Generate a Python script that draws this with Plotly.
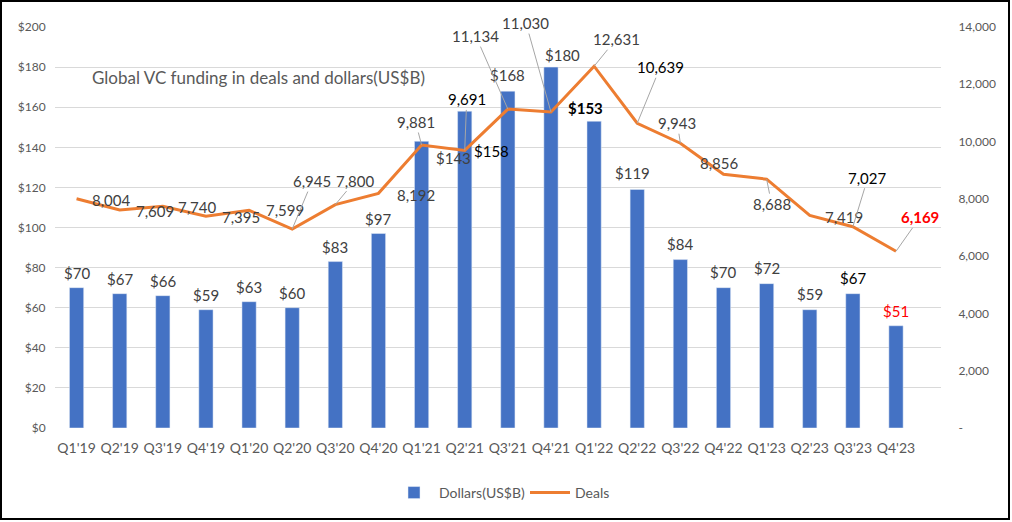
import plotly.graph_objects as go

quarters = ["Q1'19", "Q2'19", "Q3'19", "Q4'19", "Q1'20", "Q2'20", "Q3'20", "Q4'20",
            "Q1'21", "Q2'21", "Q3'21", "Q4'21", "Q1'22", "Q2'22", "Q3'22", "Q4'22",
            "Q1'23", "Q2'23", "Q3'23", "Q4'23"]
dollars = [70, 67, 66, 59, 63, 60, 83, 97, 143, 158, 168, 180, 153, 119, 84, 70, 72, 59, 67, 51]
deals = [8004, 7609, 7740, 7395, 7599, 6945, 7800, 8192, 9881, 9691, 11134, 11030,
         12631, 10639, 9943, 8856, 8688, 7419, 7027, 6169]

# label placement (pixel offsets; dy positive = down) and styles
deal_off = [(35, 1, 0), (35, 1, 0), (35, 1, 0), (35, 1, 0), (36, 0, 0), (20, -48, 1),
            (20, -24, 1), (38, 2, 0), (-6, -23, 1), (2, -51, 1), (-32, -73, 1), (-25, -89, 1),
            (22, -27, 1), (23, -56, 1), (-3, -20, 1), (-4, -11, 0), (5, 25, 1), (34, 1, 0),
            (15, -49, 1), (24, -34, 1)]
deal_col = {9: "#000000", 13: "#000000", 18: "#000000", 19: "#FF0000"}
bar_off = [(0, -15)] * 8 + [(32, 17), (27, 40), (0, -16), (12, -12), (-9, -13), (-5, -16),
                            (0, -16), (0, -16), (0, -16), (0, -16), (0, -16), (0, -15)]
bar_col = {9: "#000000", 12: "#000000", 18: "#000000", 19: "#FF0000"}

FONT = "Lato, 'Open Sans', sans-serif"
GRAY = "#404040"
LSIZE = 15

fig = go.Figure()
fig.add_trace(go.Bar(x=quarters, y=dollars, name="Dollars(US$B)", marker_color="#4472C4",
                     width=0.33, yaxis="y"))
fig.add_trace(go.Scatter(x=quarters, y=deals, name="Deals", mode="lines",
                         line=dict(color="#ED7D31", width=3), yaxis="y2"))

ann = []
for i, (q, v) in enumerate(zip(quarters, dollars)):
    dx, dy = bar_off[i]
    c = bar_col.get(i, GRAY)
    txt = f"${v}"
    if i == 12:
        txt = f"<b>${v}</b>"
    ann.append(dict(x=q, y=v, xref="x", yref="y", text=txt, showarrow=False,
                    xshift=dx, yshift=-dy, font=dict(size=LSIZE, color=c, family=FONT)))
for i, (q, v) in enumerate(zip(quarters, deals)):
    dx, dy, lead = deal_off[i]
    c = deal_col.get(i, GRAY)
    txt = f"{v:,}"
    if i == 19:
        txt = f"<b>{v:,}</b>"
    common = dict(x=q, y=v, xref="x", yref="y2", text=txt,
                  font=dict(size=LSIZE, color=c, family=FONT))
    if lead:
        ann.append(dict(**common, showarrow=True, ax=dx, ay=dy, arrowhead=0,
                        arrowwidth=1, arrowcolor="#A6A6A6", standoff=0))
    else:
        ann.append(dict(**common, showarrow=False, xshift=dx, yshift=-dy))

ann.append(dict(x=0.0395, y=0.873, xref="paper", yref="paper", xanchor="left",
                yanchor="middle", showarrow=False,
                text="Global VC funding in deals and dollars(US$B)",
                font=dict(size=17, color="#595959", family=FONT)))

W, H = 1012, 522
ml, mr, mt, mb = 55, 71, 27, 94
pw, ph = W - ml - mr, H - mt - mb

fig.update_layout(
    width=W, height=H,
    margin=dict(l=ml, r=mr, t=mt, b=mb),
    paper_bgcolor="white", plot_bgcolor="white",
    font=dict(family=FONT, color="#595959"),
    showlegend=True,
    legend=dict(orientation="h", x=(389 - ml) / pw, xanchor="left", y=-0.162,
                yanchor="middle", font=dict(size=14, color="#595959"),
                traceorder="normal", itemwidth=40, entrywidth=81),
    xaxis=dict(showgrid=False, showline=False, ticks="outside", ticklen=7,
               tickcolor="rgba(0,0,0,0)", tickfont=dict(size=14, color="#595959")),
    yaxis=dict(range=[0, 200], dtick=20, tickprefix="$", showgrid=True,
               gridcolor="#D9D9D9", gridwidth=1, zeroline=False,
               tickfont=dict(size=12, color="#595959"), ticks="outside", ticklen=6,
               tickcolor="rgba(0,0,0,0)"),
    yaxis2=dict(range=[0, 14000], overlaying="y", side="right", showgrid=False,
                zeroline=False, tickvals=list(range(0, 14001, 2000)),
                ticktext=["-"] + [f"{t:,}" for t in range(2000, 14001, 2000)],
                tickfont=dict(size=12, color="#595959"), ticks="outside", ticklen=14,
                tickcolor="rgba(0,0,0,0)"),
    annotations=ann,
    shapes=[dict(type="rect", xref="paper", yref="paper",
                 x0=(1 - ml) / pw, x1=1 + (mr - 3) / pw,
                 y0=-(mb - 3) / ph, y1=1 + (mt - 1) / ph,
                 line=dict(color="black", width=2))],
)

fig.write_html("out.html")
